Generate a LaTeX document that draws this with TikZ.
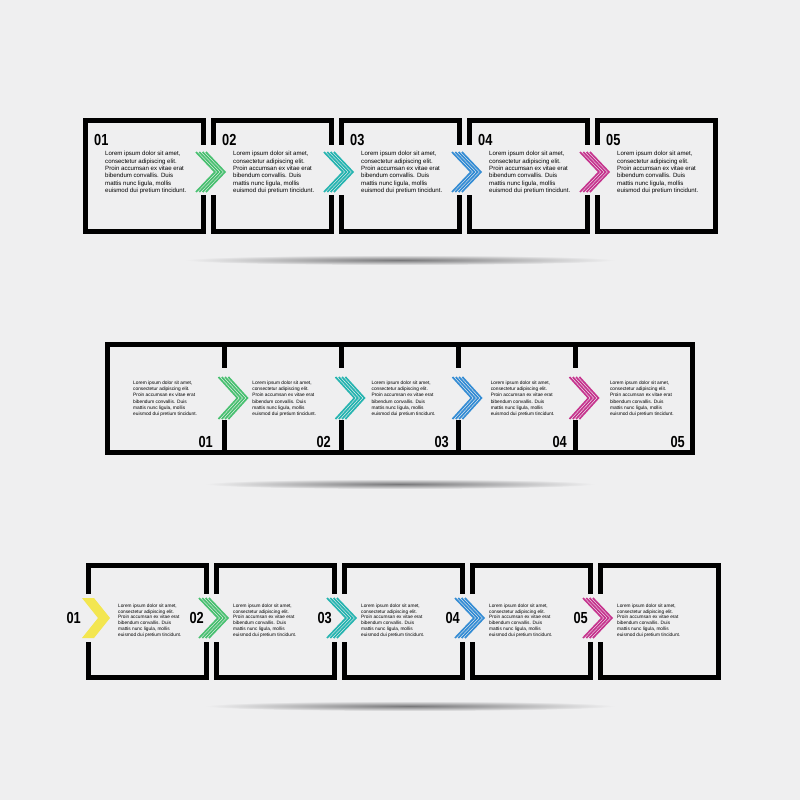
\documentclass[tikz,border=0pt]{standalone}
\usepackage{fontspec}
\setmainfont{Liberation Sans}
\usepackage{xcolor}
\usepackage{tikz}
\usetikzlibrary{calc}

\definecolor{bgcol}{RGB}{239,239,240}
\definecolor{cyel}{RGB}{243,230,80}
\definecolor{cgreen}{RGB}{72,192,112}
\definecolor{cteal}{RGB}{38,180,176}
\definecolor{cblue}{RGB}{52,140,212}
\definecolor{cmag}{RGB}{198,52,142}

\newcommand{\lorem}{Lorem ipsum dolor sit amet,\\consectetur adipiscing elit.\\Proin accumsan ex vitae erat\\bibendum convallis. Duis\\mattis nunc ligula, mollis\\euismod dui pretium tincidunt.}

% striped chevron: left x, middle y, colour, half height
\newcommand{\chev}[4]{%
  \foreach \s in {0,1,2,3}
    \draw[#3, line width=1.7pt] ({#1+3.3*\s},{#2-#4}) -- ({#1+3.3*\s+19},#2) -- ({#1+3.3*\s},{#2+#4});
}

\tikzset{
  frame/.style={line width=5pt, line join=miter, line cap=butt},
  num/.style={font=\fontsize{16}{16}\selectfont\bfseries, inner sep=0pt},
  txtA/.style={font=\fontsize{6.1}{7.4}\selectfont, align=left, inner sep=0pt, anchor=north west},
  txtB/.style={font=\fontsize{4.8}{6.2}\selectfont, align=left, inner sep=0pt, anchor=north west},
  txtC/.style={font=\fontsize{4.75}{5.9}\selectfont, align=left, inner sep=0pt, anchor=north west},
  shadow/.style={inner color={rgb,255:red,120;green,120;blue,122}, outer color=bgcol}
}

\begin{document}
\begin{tikzpicture}[x=1pt,y=-1pt]
\useasboundingbox (0,0) rectangle (800,800);
\fill[bgcol] (0,0) rectangle (800,800);

% shadows
\shade[shadow] (400,260) ellipse [x radius=215pt, y radius=5pt];
\shade[shadow] (400,484) ellipse [x radius=195pt, y radius=5pt];
\shade[shadow] (410,706) ellipse [x radius=205pt, y radius=5pt];

% first row: five boxes, number top left
\foreach \i/\n in {0/01,1/02,2/03,3/04,4/05}{
  \pgfmathsetmacro\L{85+128*\i}
  \pgfmathsetmacro\R{\L+118}
  \draw[frame] (\L,145) |- (\R,120) -- (\R,145);
  \draw[frame] (\L,195) |- (\R,231) -- (\R,195);
  \node[num, anchor=base west] (a\n) at (\L+9,145) {\scalebox{0.8}[1]{\n}};
  \node[txtA] (ta\n) at (\L+20,151) {\lorem};
}
\draw[frame] (85,145) -- (85,195);
\draw[frame] (715,145) -- (715,195);
\foreach \i/\c in {0/cgreen,1/cteal,2/cblue,3/cmag}
  \chev{196+128*\i}{172}{\c}{20};

% second row: one long frame, number bottom right
\draw[frame] (107.5,344.5) rectangle (692.5,452.5);
\foreach \j/\c in {1/cgreen,2/cteal,3/cblue,4/cmag}{
  \draw[frame] (107.5+117*\j,344.5) -- (107.5+117*\j,368);
  \draw[frame] (107.5+117*\j,420) -- (107.5+117*\j,452.5);
  \chev{101.5+117*\j}{398}{\c}{21}
}
\foreach \i/\n in {0/01,1/02,2/03,3/04,4/05}{
  \node[txtB] (tb\n) at (133+119.2*\i,380.8) {\lorem};
  \node[num, anchor=base east] (b\n) at (213+118*\i,447) {\scalebox{0.8}[1]{\n}};
}

% third row: boxes open on both sides, number before the chevron
\foreach \i/\n in {0/01,1/02,2/03,3/04,4/05}{
  \pgfmathsetmacro\L{88+128*\i}
  \pgfmathsetmacro\R{\L+118}
  \draw[frame] (\L,594) |- (\R,565.5) -- (\R,594);
  \draw[frame] (\L,642) |- (\R,677.5) -- (\R,642);
}
\draw[frame] (718,594) -- (718,642);
\fill[cyel] (82,598) -- (94,598) -- (110,618) -- (94,638) -- (82,638) -- (98,618) -- cycle;
\foreach \i/\c in {1/cgreen,2/cteal,3/cblue,4/cmag}
  \chev{71+128*\i}{618}{\c}{20};
\node[num, anchor=base east] (c01) at (81,623) {\scalebox{0.8}[1]{01}};
\foreach \i/\n in {1/02,2/03,3/04,4/05}
  \node[num, anchor=base east] (c\n) at (76+128*\i,623) {\scalebox{0.8}[1]{\n}};
\node[txtC] (tc01) at (118,603.5) {\lorem};
\foreach \i/\n in {1/02,2/03,3/04,4/05}
  \node[txtC] (tc\n) at (105+128*\i,603.5) {\lorem};
\end{tikzpicture}
\end{document}
